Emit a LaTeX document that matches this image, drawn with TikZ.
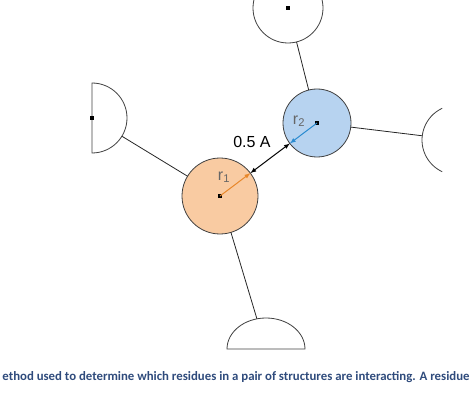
\documentclass[tikz,border=0pt]{standalone}
\usepackage{fontspec}
\setsansfont{Liberation Sans}
\newfontfamily\captionfont{Carlito}
\usepackage{tikz}
\usetikzlibrary{arrows,shapes.geometric}
\definecolor{atomorange}{HTML}{F9CBA2}
\definecolor{atomblue}{HTML}{B7D3F0}
\definecolor{arroworange}{HTML}{E8872A}
\definecolor{arrowblue}{HTML}{2A8BD0}
\definecolor{captionblue}{HTML}{2F4B7C}
\tikzset{
    atomnode/.style = {
        circle,
        draw=black!75,
        line width=0.8pt,
        inner sep=0pt,
        outer sep=0pt,
        minimum size=#1
    },
    ghostnode/.style = {
        circle,
        inner sep=0pt,
        outer sep=0pt,
        minimum size=#1
    },
    bondline/.style = {
        draw=black!85,
        line width=0.8pt
    },
    rimline/.style = {
        draw=black!75,
        line width=0.8pt
    },
    centerdot/.style = {
        fill=black,
        inner sep=0pt,
        minimum size=4pt
    },
    labeltext/.style = {
        font=\sffamily\fontsize{16}{18}\selectfont
    }
}

\begin{document}
\begin{tikzpicture}[x=1pt,y=1pt]
    \useasboundingbox (0,0) rectangle (474,405);
    % neighbouring residues
    \node [atomnode=70pt, fill=white] (top) at (288,397) {};
    \node [ghostnode=70pt] (left) at (92,287) {};
    \node [ghostnode=70pt] (right) at (457,265) {};
    \node [ellipse, inner sep=0pt, outer sep=0pt, minimum width=78pt, minimum height=62pt] (bottom) at (266,56) {};
    \draw [rimline] (left.north) arc[start angle=90, end angle=-90, radius=35pt] -- cycle;
    \draw [rimline] (right.115) arc[start angle=115, end angle=245, radius=35pt];
    \draw [rimline] (bottom.east) arc[start angle=0, end angle=180, x radius=39pt, y radius=31pt] -- cycle;
    % residues in contact
    \node [atomnode=76pt, fill=atomorange] (orange) at (220,209) {};
    \node [atomnode=68pt, fill=atomblue] (blue) at (317,282) {};
    \draw [bondline] (top) -- (blue);
    \draw [bondline] (blue) -- (right);
    \draw [bondline] (left) -- (orange);
    \draw [bondline] (bottom) -- (orange);
    \node [centerdot] (topdot) at (top.center) {};
    \node [centerdot] (leftdot) at (left.center) {};
    \node [centerdot] (orangedot) at (orange.center) {};
    \node [centerdot] (bluedot) at (blue.center) {};
    \draw [arroworange, line width=1pt, -latex] (orange.center) -- (orange.37);
    \draw [arrowblue, line width=1pt, -latex] (blue.center) -- (blue.217);
    \draw [black, line width=1pt, latex-latex] (orange.37) -- (blue.217);
    \node [labeltext] (gap) at (252,263) {0.5 A};
    \node [labeltext, text=black!60] (r1) at (224,228) {r\textsubscript{1}};
    \node [labeltext, text=black!60] (r2) at (299,284) {r\textsubscript{2}};
    \node [font=\captionfont\bfseries\fontsize{12.8}{15}\selectfont, text=captionblue] (caption) at (236,28) {ethod used to determine which residues in a pair of structures are interacting. A residue};
\end{tikzpicture}
\end{document}
